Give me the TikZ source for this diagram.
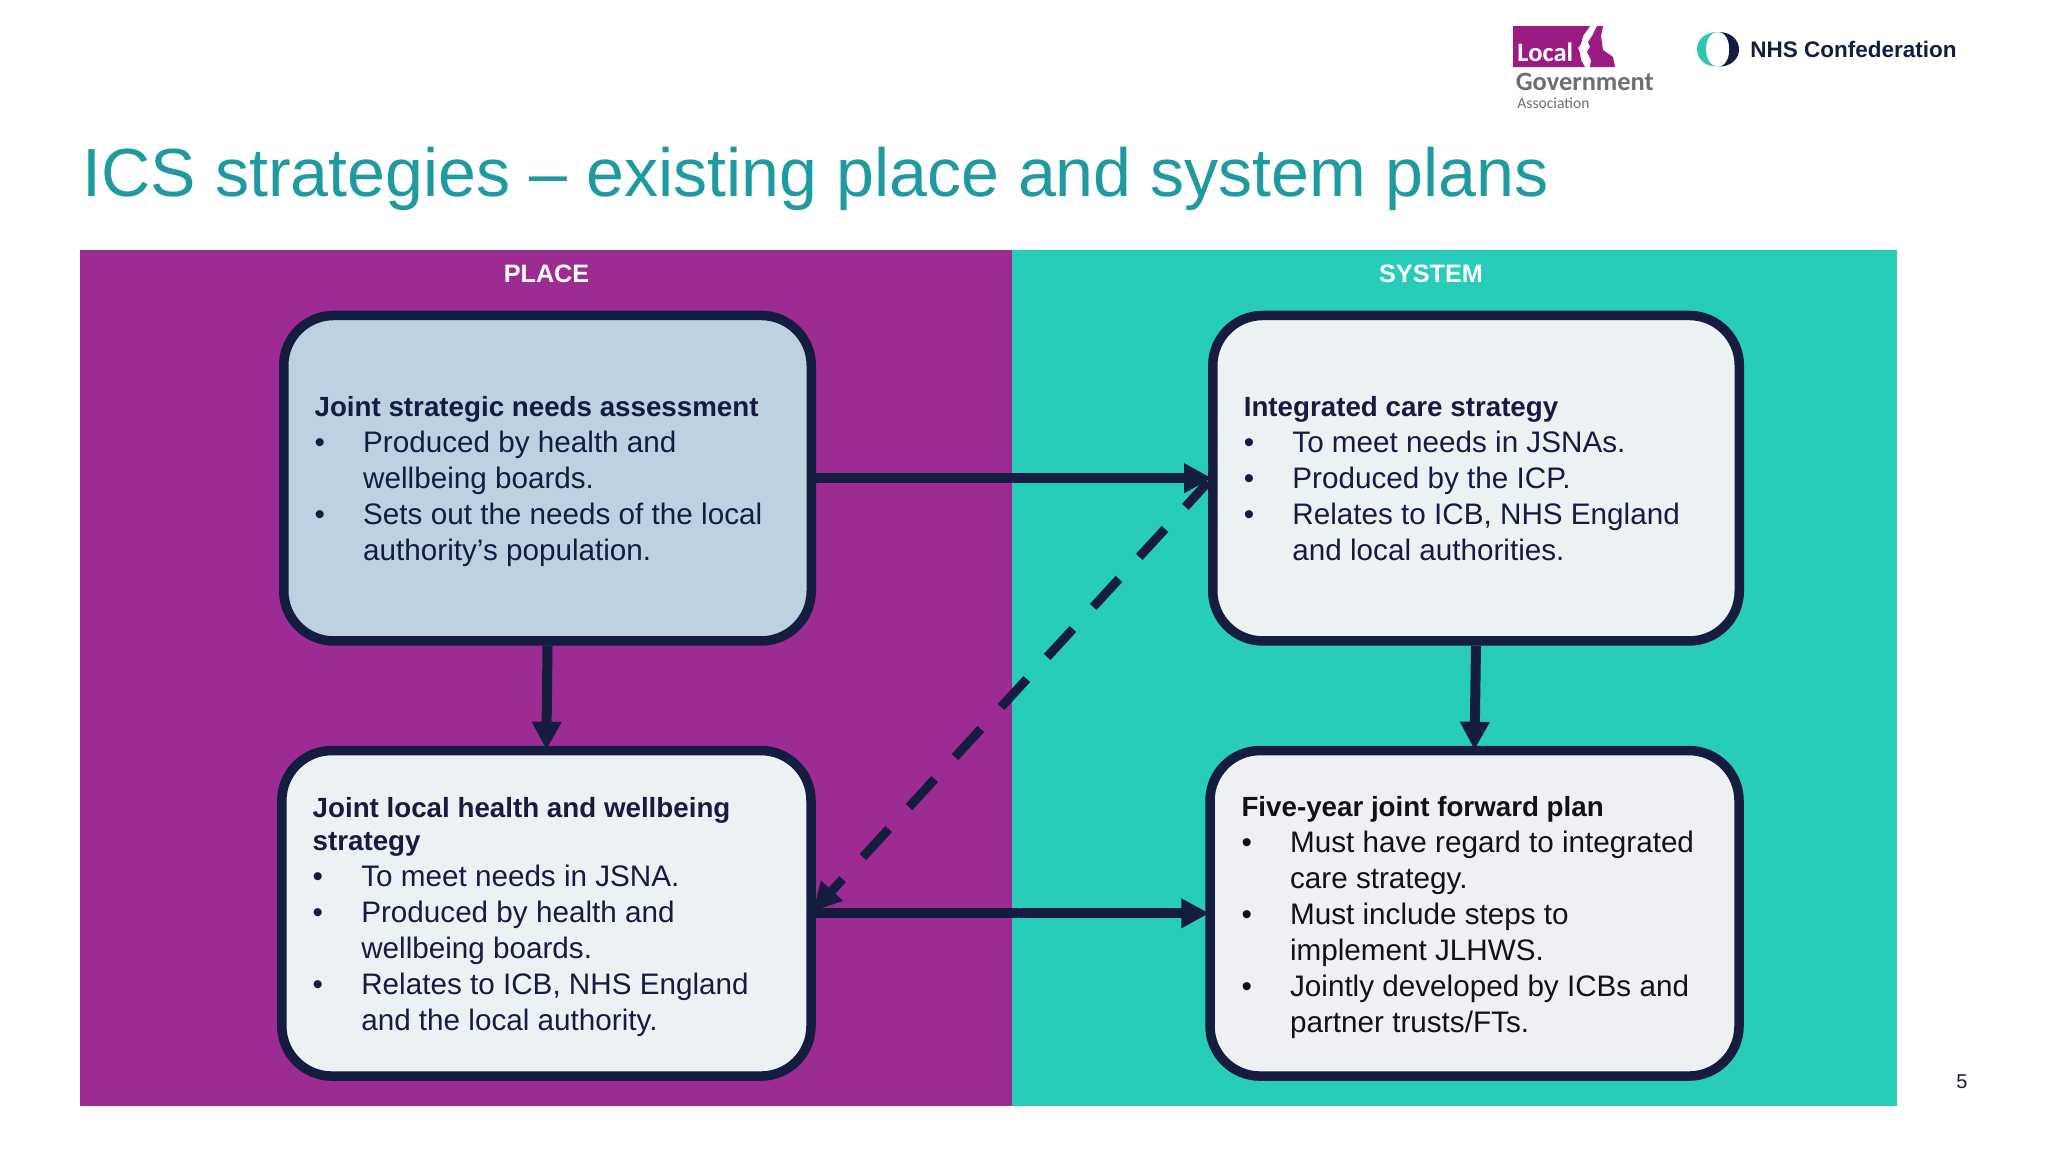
\documentclass[tikz,border=0pt]{standalone}
\usepackage{fontspec}
\setmainfont{Liberation Sans}
\newfontfamily\lgafont{Carlito}
\usetikzlibrary{arrows.meta}
\definecolor{navy}{HTML}{141C40}
\definecolor{purplepanel}{HTML}{9C2B92}
\definecolor{greenpanel}{HTML}{27CDB8}
\definecolor{bluefill}{HTML}{BDD1E0}
\definecolor{palefill}{HTML}{ECF1F4}
\definecolor{palegrey}{HTML}{EEF0F4}
\definecolor{titleteal}{HTML}{1F9AA0}
\definecolor{lgapurple}{HTML}{9B1B82}
\definecolor{lgagrey}{HTML}{6D6E71}
\definecolor{ringteal}{HTML}{2FC6AE}
\definecolor{inkblack}{HTML}{111218}
\newcommand{\hdline}[1]{{\fontsize{13.87}{16.6}\selectfont\bfseries\noindent #1\par}}
\newcommand{\bul}[1]{{\fontsize{14.83}{18}\selectfont\hangindent=24.3pt\hangafter=1\noindent\hbox to 24.3pt{\textbullet\hfil}#1\par}}
\newcommand{\brk}{\hfil\break}
\newcommand{\boxtext}[1]{\vtop{\hsize=235pt\parindent=0pt\parskip=0pt #1}}
\tikzset{
  panelhead/.style={text=white,font=\fontsize{12.6}{15}\selectfont\bfseries,inner sep=0pt,anchor=base},
  planbox/.style={rounded corners=25pt,draw=navy,line width=4.75pt,fill=palefill,minimum height=162.75pt,inner sep=0pt},
  boxcopy/.style={anchor=base west,inner sep=0pt,text=navy},
  flow/.style={draw=navy,line width=5pt,shorten >=-2pt,-{Triangle[length=14pt,width=14pt]}},
  dashflow/.style={draw=navy,line width=4.5pt,dash pattern=on 19pt off 15pt,dash phase=2.25pt,shorten >=-2pt,-{Triangle[length=14pt,width=14pt]}},
  logotext/.style={anchor=base west,inner sep=0pt}
}
\begin{document}
\begin{tikzpicture}[x=0.5pt,y=-0.5pt]
\useasboundingbox (0,0) rectangle (2048,1152);
\fill[white] (0,0) rectangle (2048,1152);
% panels
\fill[purplepanel] (80.4,249.5) rectangle (1012,1106);
\fill[greenpanel] (1012,249.5) rectangle (1897,1106);
% title
\node[anchor=base west,inner sep=0pt,text=titleteal,font=\fontsize{34.07}{40}\selectfont] (title) at (82.3,196) {ICS strategies – existing place and system plans};
\node[panelhead] (place) at (546.5,282) {PLACE};
\node[panelhead] (system) at (1431,282) {SYSTEM};
% boxes
\node[planbox,fill=bluefill,minimum width=263.75pt] (b1) at (547.5,478.2) {};
\node[planbox,minimum width=263.25pt] (b2) at (1476,478.2) {};
\node[planbox,minimum width=264.6pt] (b3) at (546.4,913.3) {};
\node[planbox,fill=palegrey,minimum width=264.5pt] (b4) at (1474.5,913.3) {};
% box text
\node[boxcopy] (t1) at (314.2,416.9) {\boxtext{\hdline{Joint strategic needs assessment}\bul{Produced by health and\brk wellbeing boards.}\bul{Sets out the needs of the local\brk authority’s population.}}};
\node[boxcopy] (t2) at (1243.4,416.9) {\boxtext{\hdline{Integrated care strategy}\bul{To meet needs in JSNAs.}\bul{Produced by the ICP.}\bul{Relates to ICB, NHS England\brk and local authorities.}}};
\node[boxcopy] (t3) at (312.3,817.6) {\boxtext{\hdline{Joint local health and wellbeing\brk strategy}\bul{To meet needs in JSNA.}\bul{Produced by health and\brk wellbeing boards.}\bul{Relates to ICB, NHS England\brk and the local authority.}}};
\node[boxcopy,text=inkblack] (t4) at (1241.1,816) {\boxtext{\hdline{Five-year joint forward plan}\bul{Must have regard to integrated\brk care strategy.}\bul{Must include steps to\brk implement JLHWS.}\bul{Jointly developed by ICBs and\brk partner trusts/FTs.}}};
% connectors
\draw[flow] (b1.east) -- (b2.west);
\draw[flow] (b3.east) -- (b4.west);
\draw[flow] (b1.south) -- (b3.north);
\draw[flow] (b2.south) -- (b4.north);
\draw[dashflow] ([yshift=-2pt]b2.west) -- ([yshift=2.5pt]b3.east);
% page number
\node[anchor=base,inner sep=0pt,text=navy,font=\fontsize{10}{12}\selectfont] (pagenum) at (1962,1088.5) {5};
% LGA logo
\fill[lgapurple] (1513,26) -- (1590,26) -- (1583,36) -- (1581,44) -- (1578,48) -- (1580,53) -- (1581,60) -- (1585,67) -- (1513,67) -- cycle;
\fill[lgapurple] (1597,26) -- (1603,26) -- (1601,36) -- (1603,50) -- (1613,57) -- (1615,67) -- (1590,67) -- (1591,60) -- (1587,52) -- (1590,47) -- (1588,42) -- (1592,36) -- cycle;
\node[logotext,text=white,font=\lgafont\bfseries\fontsize{13.3}{15}\selectfont] (lgalocal) at (1517,61.7) {Local};
\node[logotext,text=lgagrey,font=\lgafont\bfseries\fontsize{13.2}{15}\selectfont] (lgagov) at (1515.5,90.7) {Government};
\node[logotext,text=lgagrey,font=\lgafont\fontsize{7.8}{9}\selectfont] (lgaassoc) at (1517,108.7) {Association};
% NHS Confederation logo
\fill[ringteal] (1718,32) .. controls (1690,32) and (1690,66.7) .. (1718,66.7) .. controls (1702,66.7) and (1702,32) .. (1718,32) -- cycle;
\fill[navy] (1718,32) .. controls (1746,32) and (1746,66.7) .. (1718,66.7) .. controls (1733,66.7) and (1733,32) .. (1718,32) -- cycle;
\node[logotext,text=navy,font=\fontsize{11.25}{13}\selectfont\bfseries] (nhsconf) at (1750,57.3) {NHS Confederation};
\end{tikzpicture}
\end{document}
